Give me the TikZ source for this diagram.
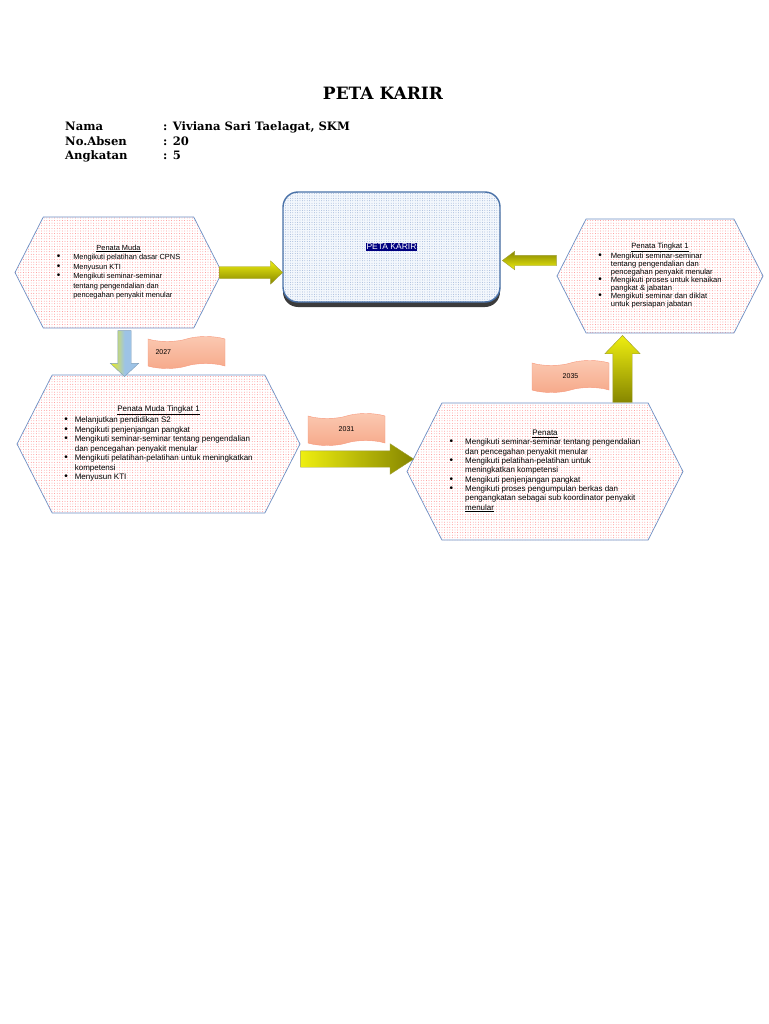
\documentclass[tikz,border=0pt]{standalone}
\usepackage{fontspec}
\setmainfont{Liberation Sans}
\newfontfamily\judulfont{DejaVu Serif}
\usepackage{xcolor}
\usetikzlibrary{shapes.symbols, shapes.arrows, shadows, patterns.meta, positioning}

\definecolor{garisHeks}{HTML}{6D8FC4}
\definecolor{garisKarir}{HTML}{4A72A8}
\definecolor{isiKarir}{HTML}{F3F7FC}
\definecolor{titikKarir}{HTML}{7F9CCB}
\definecolor{navy}{HTML}{000080}
\definecolor{kuning}{HTML}{EEEE10}
\definecolor{zaitun}{HTML}{868600}
\definecolor{biruMuda}{HTML}{9DC3E6}
\definecolor{salmon}{HTML}{F6A98A}
\definecolor{salmonMuda}{HTML}{FBC9B2}

% butir daftar
\newcommand{\poin}{{\fontsize{10}{8}\selectfont\textbullet}}

\begin{document}
\begin{tikzpicture}[x=1pt, y=-1pt,
    % Heksagon tiap jenjang jabatan
    jenjang/.style={signal, signal to=west and east, signal pointer angle=126, draw=garisHeks, line width=0.7pt, preaction={fill=white}, pattern={Dots[radius=0.45pt, distance=2.6pt]}, pattern color=red!50, inner sep=0pt, align=center},
    % Kotak tengah
    karir/.style={rectangle, rounded corners=15pt, draw=garisKarir, line width=1.4pt, minimum width=217pt, minimum height=110pt, drop shadow={shadow xshift=0pt, shadow yshift=-5pt, opacity=0.9, fill=black!85}, preaction={fill=isiKarir}, pattern={Dots[radius=0.4pt, distance=2.4pt]}, pattern color=titikKarir, font=\fontsize{8.5}{10}\selectfont},
    % Panah blok (lebar batang = 2 x inner ysep)
    panah/.style={single arrow, draw=zaitun!80, thin, inner xsep=0pt, anchor=tail},
    % Pita tahun
    pita/.style={tape, draw=salmon!90!red, thin, top color=salmonMuda, bottom color=salmon, minimum width=77pt, minimum height=32pt, font=\fontsize{7}{8}\selectfont},
    judul/.style={font=\judulfont\bfseries\fontsize{17}{20}\selectfont},
    identitas/.style={font=\judulfont\bfseries\fontsize{11.6}{13}\selectfont, anchor=base west, inner sep=0pt}
]
\useasboundingbox (0,0) rectangle (768,1024);

% 1. Judul dan identitas
\node[judul] (judul) at (383,93) {PETA KARIR};
\node[identitas] (nama) at (65,131) {Nama};
\node[identitas] (absen) at (65,146) {No.Absen};
\node[identitas] (angkatan) at (65,160) {Angkatan};
\node[identitas] (namaIsi) at (163,131) {: Viviana Sari Taelagat, SKM};
\node[identitas] (absenIsi) at (163,146) {: 20};
\node[identitas] (angkatanIsi) at (163,160) {: 5};

% 2. Kotak tengah
\node[karir] (karir) at (391.5,247) {{\fboxsep=1pt\colorbox{navy}{\color{white}PETA KARIR}}};

% 3. Penata Muda
\node[jenjang, minimum width=207pt, minimum height=111pt, font=\fontsize{7.4}{9.5}\selectfont] (muda) at (118.5,272.5) {
    \underline{Penata Muda}\\
    \begin{tabular}[t]{@{}l@{\hspace{13pt}}l@{}}
    \poin & Mengikuti pelatihan dasar CPNS\\
    \poin & Menyusun KTI\\
    \poin & Mengikuti seminar-seminar\\
     & tentang pengendalian dan\\
     & pencegahan penyakit menular
    \end{tabular}
};

% 4. Penata Tingkat 1
\node[jenjang, minimum width=206pt, minimum height=114pt, font=\fontsize{7.6}{8}\selectfont] (tingkat) at (660,276) {
    \underline{Penata Tingkat 1}\\
    \begin{tabular}[t]{@{}l@{\hspace{9pt}}l@{}}
    \poin & Mengikuti seminar-seminar\\
     & tentang pengendalian dan\\
     & pencegahan penyakit menular\\
    \poin & Mengikuti proses untuk kenaikan\\
     & pangkat \& jabatan\\
    \poin & Mengikuti seminar dan diklat\\
     & untuk persiapan jabatan
    \end{tabular}
};

% 5. Penata Muda Tingkat 1
\node[jenjang, minimum width=283pt, minimum height=138pt, font=\fontsize{8}{9.5}\selectfont] (mudaSatu) at (158.5,444) {
    \underline{Penata Muda Tingkat 1}\\
    \begin{tabular}[t]{@{}l@{\hspace{7pt}}l@{}}
    \poin & Melanjutkan pendidikan S2\\
    \poin & Mengikuti penjenjangan pangkat\\
    \poin & Mengikuti seminar-seminar tentang pengendalian\\
     & dan pencegahan penyakit menular\\
    \poin & Mengikuti pelatihan-pelatihan untuk meningkatkan\\
     & kompetensi\\
    \poin & Menyusun KTI
    \end{tabular}
};

% 6. Penata
\node[jenjang, minimum width=276pt, minimum height=137pt, font=\fontsize{8}{9.3}\selectfont] (penata) at (545,471.5) {
    \underline{Penata}\\
    \begin{tabular}[t]{@{}l@{\hspace{12pt}}l@{}}
    \poin & Mengikuti seminar-seminar tentang pengendalian\\
     & dan pencegahan penyakit menular\\
    \poin & Mengikuti pelatihan-pelatihan untuk\\
     & meningkatkan kompetensi\\
    \poin & Mengikuti penjenjangan pangkat\\
    \poin & Mengikuti proses pengumpulan berkas dan\\
     & pengangkatan sebagai sub koordinator penyakit\\
     & \underline{menular}
    \end{tabular}
};

% 7. Panah blok antar jenjang
\node[panah, minimum height=63pt, inner ysep=5.8pt, single arrow head extend=5.7pt, single arrow tip angle=88, top color=kuning, bottom color=zaitun] (p1) at ([xshift=-3pt]muda.east) {};
\node[panah, rotate=180, minimum height=54pt, inner ysep=5pt, single arrow head extend=4pt, single arrow tip angle=74, top color=zaitun, bottom color=kuning] (p2) at ([yshift=15.5pt]tingkat.west) {};
\node[panah, rotate=-90, draw=biruMuda!80!black, minimum height=46pt, inner ysep=6.5pt, single arrow head extend=7.5pt, single arrow tip angle=94, left color=kuning, right color=biruMuda, middle color=biruMuda] (p3) at ([xshift=6pt, yshift=-2pt]muda.south) {};
\node[panah, minimum height=113pt, inner ysep=8pt, single arrow head extend=7pt, single arrow tip angle=66, left color=kuning, right color=zaitun] (p4) at ([yshift=-15pt]mudaSatu.east) {};
\node[panah, rotate=90, minimum height=67pt, inner ysep=9.5pt, single arrow head extend=8pt, single arrow tip angle=88, top color=kuning, bottom color=zaitun] (p5) at ([xshift=77.5pt]penata.north) {};

% 8. Pita tahun
\node[pita, text width=62pt, align=left] (t2027) at (186.5,352.5) {2027};
\node[pita] (t2031) at (346.5,429.5) {2031};
\node[pita] (t2035) at (570.5,376.5) {2035};

\end{tikzpicture}
\end{document}
